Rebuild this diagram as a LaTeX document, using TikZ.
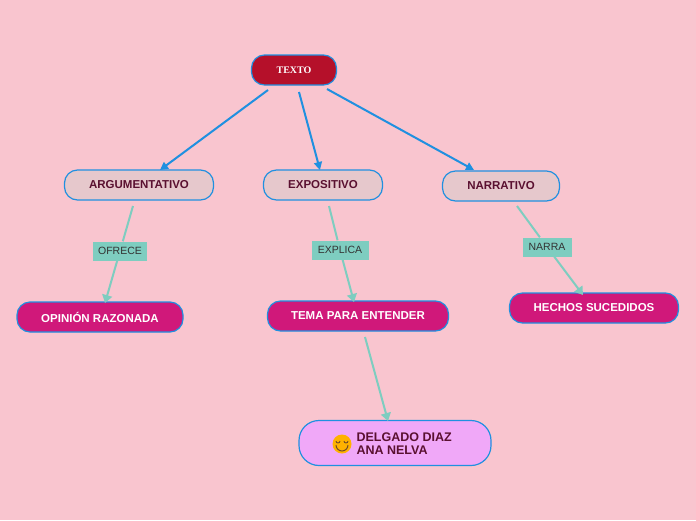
\documentclass[tikz,border=0pt]{standalone}
\usepackage{fontspec}
\setmainfont{Liberation Sans}
\newfontfamily\serifx{Liberation Serif}
\usetikzlibrary{arrows.meta}
\definecolor{bg}{HTML}{F9C5CF}
\definecolor{bl}{HTML}{2090E0}
\definecolor{tl}{HTML}{7ECDC0}
\definecolor{crim}{HTML}{B5102A}
\definecolor{lite}{HTML}{E6C8CC}
\definecolor{mag}{HTML}{D0187A}
\definecolor{lil}{HTML}{F0A8F8}
\definecolor{dk}{HTML}{5A1030}
\begin{document}
\begin{tikzpicture}[x=1pt,y=-1pt,
 box/.style={draw=bl,line width=1.2pt,rounded corners=13pt,minimum height=30pt,inner sep=0pt,font=\bfseries\fontsize{11.5}{12}\selectfont},
 l2/.style={box,fill=lite,text=dk},
 l3/.style={box,fill=mag,text=white},
 lab/.style={fill=tl,inner sep=0pt,minimum height=19pt,font=\fontsize{10.5}{11}\selectfont,text=black!80},
 ba/.style={bl,line width=2pt,-{Triangle[length=8pt,width=8pt]}},
 ta/.style={tl,line width=2pt,-{Triangle[length=8pt,width=10pt]}},
 tn/.style={tl,line width=2pt}]
\fill[bg] (0,0) rectangle (696,520);
\node[box,fill=crim,text=white,minimum width=85pt,font=\serifx\bfseries\fontsize{10}{11}\selectfont] (t) at (294,70) {TEXTO};
\node[l2,minimum width=149pt] (a) at (139,185) {ARGUMENTATIVO};
\node[l2,minimum width=119pt] (e) at (323,185) {EXPOSITIVO};
\node[l2,minimum width=117pt] (n) at (501,186) {NARRATIVO};
\node[l3,minimum width=166pt] (o) at (100,317) {OPINIÓN RAZONADA};
\node[l3,minimum width=181pt] (m) at (358,316) {TEMA PARA ENTENDER};
\node[l3,minimum width=169pt] (h) at (594,308) {HECHOS SUCEDIDOS};
\node[box,fill=lil,text=dk,minimum width=192pt,minimum height=45pt,rounded corners=20pt] (d) at (395,443) {};
\node[text=dk,font=\bfseries\fontsize{12.5}{13}\selectfont,align=left,anchor=west] (dt) at (353,444) {DELGADO DIAZ\\ANA NELVA};
\node[circle,fill=orange!60!yellow,minimum size=19pt,inner sep=0pt] (em) at (342,444) {};
\draw[line width=1pt,brown!60!black] (336,445) arc[start angle=180,end angle=360,radius=6pt];
\draw[line width=0.9pt,brown!60!black] (336,441) arc[start angle=180,end angle=360,radius=2pt] (344,441) arc[start angle=180,end angle=360,radius=2pt];
\node[lab,minimum width=54pt] (l1) at (120,251) {OFRECE};
\node[lab,minimum width=57pt] (l2) at (340,250) {EXPLICA};
\node[lab,minimum width=49pt] (l3) at (547,247) {NARRA};
\coordinate (t1) at (268,90); \coordinate (t2) at (299,92); \coordinate (t3) at (327,89);
\coordinate (a1) at (160,170); \coordinate (e1) at (320,170); \coordinate (n1) at (474,170);
\draw[ba] (t1) -- (a1); \draw[ba] (t2) -- (e1); \draw[ba] (t3) -- (n1);
\coordinate (as) at (133,206); \coordinate (oe) at (105,303);
\draw[tn] (as) -- (l1); \draw[ta] (l1) -- (oe);
\coordinate (es) at (329,206); \coordinate (me) at (354,302);
\draw[tn] (es) -- (l2); \draw[ta] (l2) -- (me);
\coordinate (ns) at (517,206); \coordinate (he) at (583,295);
\draw[tn] (ns) -- (l3); \draw[ta] (l3) -- (he);
\coordinate (ms) at (365,337); \coordinate (de) at (388,421);
\draw[ta] (ms) -- (de);
\end{tikzpicture}
\end{document}
